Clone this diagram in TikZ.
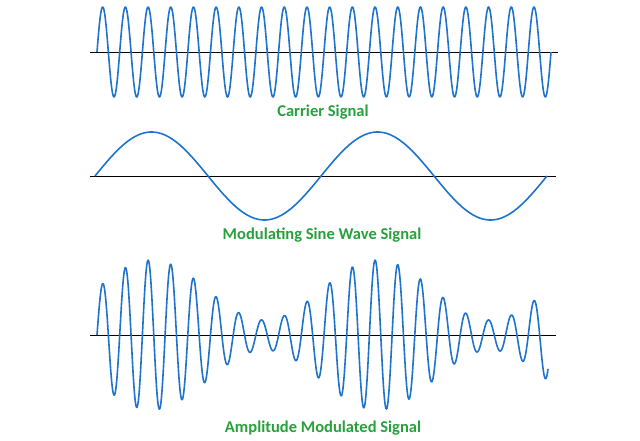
\documentclass[tikz,border=0pt]{standalone}
\usepackage{fontspec}
\setmainfont{Carlito}
\definecolor{sig}{RGB}{30,115,205}
\definecolor{lbl}{RGB}{40,160,60}
\begin{document}
\begin{tikzpicture}[x=1pt,y=-1pt,
  wave/.style={sig,line width=1.6pt,line join=round},
  axis/.style={black,line width=0.5pt},
  lab/.style={lbl,font=\bfseries\fontsize{16.5}{18}\selectfont}]
\useasboundingbox (0,0) rectangle (640,441);
% carrier
\draw[axis] (90,52) -- (558,52);
\draw[wave] plot[domain=97:551,samples=700,smooth] (\x,{52-45*sin((\x-97)/22.7*360)});
\node[lab] (c) at (323,112) {Carrier Signal};
% modulating
\draw[axis] (90,176) -- (556,176);
\draw[wave] plot[domain=95:547,samples=300,smooth] (\x,{176-44*sin((\x-95)/226*360)});
\node[lab] (m) at (322,235) {Modulating Sine Wave Signal};
% AM
\draw[axis] (90,335) -- (556,335);
\draw[wave] plot[domain=97:548,samples=900,smooth] (\x,{335-(45+30*sin((\x-95)/226*360))*sin((\x-97)/22.7*360)});
\node[lab] (a) at (323,428) {Amplitude Modulated Signal};
\end{tikzpicture}
\end{document}
